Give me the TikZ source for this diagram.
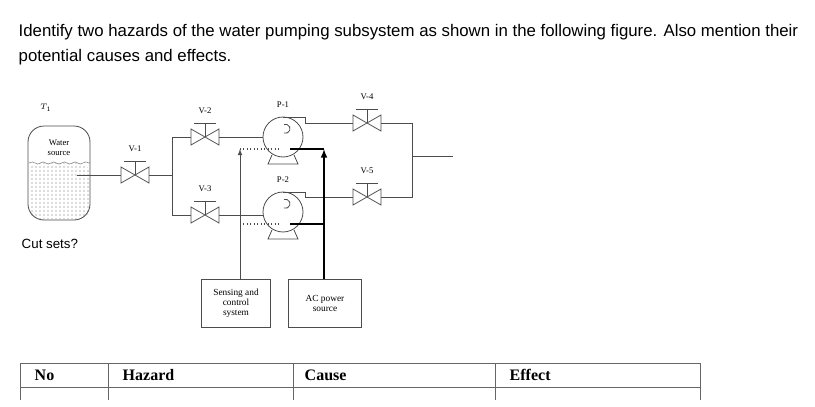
\documentclass[tikz,border=0pt]{standalone}
\usepackage{fontspec}
\setmainfont{Liberation Serif}
\newfontfamily\sans{Liberation Sans}
\usetikzlibrary{positioning,patterns,calc,decorations.pathmorphing}
\tikzset{
  pipe/.style={draw=black!70, line width=0.6pt},
  lbl/.style={font=\fontsize{6.5}{7.5}\selectfont},
  box/.style={draw=black!70, line width=0.6pt, align=center, font=\fontsize{7}{7.5}\selectfont},
  pics/valve/.style={code={
    \draw[pipe] (-14,-8) -- (14,8) -- (14,-8) -- (-14,8) -- cycle;
    \draw[pipe] (0,0) -- (0,-14);
    \draw[pipe] (-11,-14) -- (11,-14);
  }},
  pics/pump/.style={code={
    \draw[pipe] (-11,18) -- (-15,27) -- (15,27) -- (11,18);
    \draw[pipe, fill=white] (0,0) circle (20);
    \draw[pipe] (1,-4) arc (110:-110:4.5);
    \draw[pipe] (0,-20) -- (22,-20) -- (22,-14);
  }}
}
\begin{document}
\begin{tikzpicture}[x=0.75pt,y=-0.75pt]
  \useasboundingbox (0,0) rectangle (815,407);
  % question
  \node[anchor=west, font=\sans\fontsize{12.6}{14}\selectfont] (q1) at (14,32) {Identify two hazards of the water pumping subsystem as shown in the following figure. Also mention their};
  \node[anchor=west, font=\sans\fontsize{12.6}{14}\selectfont] (q2) at (14,57) {potential causes and effects.};
  % tank
  \fill[pattern=dots, pattern color=black!60, rounded corners=8] (29,163) rectangle (90,219);
  \draw[pipe, rounded corners=12] (28,126) rectangle (90,220);
  \draw[black!50, decorate, decoration={snake, amplitude=0.8, segment length=8}] (29,163) -- (90,163);
  \node[lbl] (t1) at (46,108) {$T_1$};
  \node[lbl, align=center] (ws) at (59,148) {Water\\source};
  \node[anchor=west, font=\sans\fontsize{10}{11}\selectfont] (cut) at (17,244) {Cut sets?};
  % valves and pumps
  \coordinate (v1) at (135,175);
  \coordinate (v2) at (205,137);
  \coordinate (v3) at (205,215);
  \coordinate (v4) at (367,123);
  \coordinate (v5) at (367,197);
  \coordinate (p1) at (283,137);
  \coordinate (p2) at (283,212);
  % piping
  \draw[pipe] (77,175) -- (121,175) (149,175) -- (172,175);
  \draw[pipe] (191,137) -- (172,137) -- (172,215) -- (191,215);
  \draw[pipe] (219,137) -- (286,137);
  \draw[pipe] (219,215) -- (286,215);
  \draw[pipe] (305,123) -- (353,123) (381,123) -- (412,123) -- (412,197) -- (381,197) (353,197) -- (305,197);
  \draw[pipe] (412,156) -- (453,156);
  \foreach \v/\t in {v1/V-1,v2/V-2,v3/V-3,v4/V-4,v5/V-5}{
    \pic at (\v) {valve};
    \node[lbl] (l\v) at ($(\v)+(0,-26)$) {\t};
  }
  \foreach \p/\t in {p1/P-1,p2/P-2}{
    \pic at (\p) {pump};
    \node[lbl] (l\p) at ($(\p)+(0,-32)$) {\t};
  }
  % control and power
  \node[box, minimum width=52pt, minimum height=36pt] (ctl) at (236,303) {Sensing and\\control\\system};
  \node[box, minimum width=55pt, minimum height=36pt] (ac) at (325,303) {AC power\\source};
  \coordinate (cs) at (240,149);
  \coordinate (pw) at (324,149);
  \draw[pipe, dotted, line width=1pt] (cs) -- (280,149);
  \draw[pipe, dotted, line width=1pt] (240,224) -- (280,224);
  \draw[pipe, -latex] (ctl.north -| cs) -- (cs);
  \draw[line width=1.2pt, -latex] (ac.north -| pw) -- (pw);
  \draw[line width=1.2pt] (290,149) -- (pw);
  \draw[line width=1.2pt] (290,224) -- (324,224);
  % table
  \draw[black!60] (20,363) -- (700,363);
  \draw[black!60] (20,387) -- (700,387);
  \foreach \x in {20,108,293,495,700} \draw[black!60] (\x,363) -- (\x,400);
  \foreach \x/\t in {30/No,118/Hazard,300/Cause,505/Effect}
    \node[anchor=west, font=\bfseries\fontsize{12}{13}\selectfont] (h\t) at (\x,375) {\t};
\end{tikzpicture}
\end{document}
